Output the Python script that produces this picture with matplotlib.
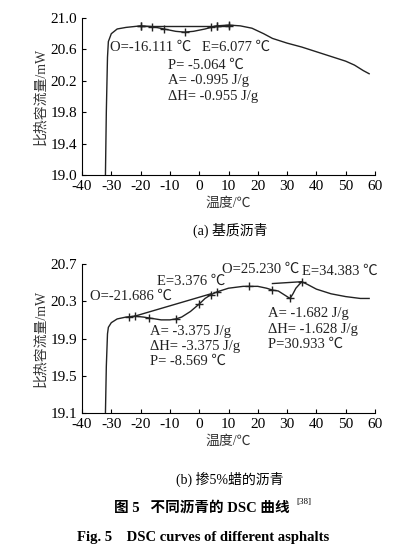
import matplotlib.pyplot as plt
import numpy as np

FONT = ['Liberation Serif', 'Noto Sans CJK SC']
plt.rcParams['font.family'] = FONT
plt.rcParams['axes.unicode_minus'] = False

# ── (a) base asphalt ─────────────────────────────────────────────────────────
a_t = [-32, -31.7, -31.3, -31, -30, -28, -25, -20, -16, -12, -8, -5, -2, 2, 4, 6, 10, 14, 18, 22, 25, 30, 35, 40, 45, 50, 53, 56, 58]
a_q = [19.0, 19.8, 20.5, 20.7, 20.8, 20.86, 20.88, 20.9, 20.89, 20.86, 20.83, 20.82, 20.83, 20.86, 20.88, 20.9, 20.91, 20.9, 20.87, 20.8, 20.74, 20.68, 20.63, 20.57, 20.51, 20.45, 20.4, 20.33, 20.29]
a_base = ([-20, 10], [20.9, 20.9])
a_marks = [-20, -16, -12, -5, 4, 6, 10]

# ── (b) asphalt with 5% wax ──────────────────────────────────────────────────
b_t = [-32, -31.7, -31.3, -31, -30, -28, -25, -22, -19, -17, -13, -10, -8, -6, -3, 0, 2, 4, 6, 10, 15, 20, 23, 25, 27, 29, 31, 32, 33, 35, 37, 40, 45, 50, 55, 58]
b_q = [19.1, 19.6, 19.95, 20.02, 20.07, 20.11, 20.13, 20.14, 20.13, 20.12, 20.1, 20.1, 20.11, 20.13, 20.19, 20.27, 20.33, 20.37, 20.4, 20.44, 20.46, 20.46, 20.44, 20.42, 20.41, 20.37, 20.33, 20.38, 20.44, 20.51, 20.48, 20.43, 20.38, 20.35, 20.33, 20.33]
b_base1 = ([-22, 4], [20.14, 20.38])
b_base2 = ([25, 35], [20.49, 20.51])
b_marks = [-24, -22, -17, -8, 0, 4, 6, 17, 25, 31, 35]

W, H = 403, 552
fig = plt.figure(figsize=(W / 100, H / 100), dpi=100)


def style(ax, ylim, yticks):
    ax.set_xlim(-40, 60)
    ax.set_ylim(*ylim)
    ax.set_xticks(range(-40, 61, 10))
    ax.set_yticks(yticks)
    ax.set_yticklabels([f"{v:.1f}" for v in yticks])
    ax.spines['top'].set_visible(False)
    ax.spines['right'].set_visible(False)
    ax.tick_params(direction='in', length=3, labelsize=11, width=0.8)
    ax.set_xlabel("温度/℃", fontsize=10, color='#333', labelpad=3)
    ax.set_ylabel("比热容流量/mW", fontsize=10, color='#333', labelpad=2)


def txt(ax, x, y, s):
    ax.text(x, y, s, fontsize=10.5, ha='left', va='center', color='#222')


ax1 = fig.add_axes([82 / W, (H - 175) / H, 293 / W, 157 / H])
ax1.plot(a_t, a_q, color='#222', lw=1.0)
ax1.plot(*a_base, color='#222', lw=1.0)
ax1.plot(a_marks, np.interp(a_marks, a_t, a_q), '+', color='#222', ms=6)
ax1.plot([-20, 6, 10], [20.9] * 3, '+', color='#222', ms=6)
style(ax1, (19.0, 21.0), [19.0, 19.4, 19.8, 20.2, 20.6, 21.0])
txt(ax1, -30.5, 20.63, "O=-16.111 ℃")
txt(ax1, 1, 20.63, "E=6.077 ℃")
txt(ax1, -10.6, 20.40, "P= -5.064 ℃")
txt(ax1, -10.6, 20.21, "A= -0.995 J/g")
txt(ax1, -10.6, 20.00, "ΔH= -0.955 J/g")
fig.text(230 / W, 1 - 230 / H, "(a) 基质沥青", fontsize=10, ha='center', va='center')

ax2 = fig.add_axes([82 / W, (H - 413) / H, 293 / W, 149 / H])
ax2.plot(b_t, b_q, color='#222', lw=1.0)
ax2.plot(*b_base1, color='#222', lw=1.0)
ax2.plot(*b_base2, color='#222', lw=1.0)
ax2.plot(b_marks, np.interp(b_marks, b_t, b_q), '+', color='#222', ms=6)
style(ax2, (19.1, 20.7), [19.1, 19.5, 19.9, 20.3, 20.7])
txt(ax2, -37.3, 20.35, "O=-21.686 ℃")
txt(ax2, -14.4, 20.51, "E=3.376 ℃")
txt(ax2, 7.8, 20.64, "O=25.230 ℃")
txt(ax2, 35, 20.62, "E=34.383 ℃")
txt(ax2, -16.8, 19.97, "A= -3.375 J/g")
txt(ax2, -16.8, 19.81, "ΔH= -3.375 J/g")
txt(ax2, -16.8, 19.65, "P= -8.569 ℃")
txt(ax2, 23.5, 20.17, "A= -1.682 J/g")
txt(ax2, 23.5, 20.00, "ΔH= -1.628 J/g")
txt(ax2, 23.5, 19.84, "P=30.933 ℃")
fig.text(230 / W, 1 - 479 / H, "(b) 掺5%蜡的沥青", fontsize=10, ha='center', va='center')

fig.text(202 / W, 1 - 508 / H, "图 5   不同沥青的 DSC 曲线", fontsize=10.5,
         ha='center', va='center', weight='bold')
fig.text(296 / W, 1 - 502 / H, "[38]", fontsize=6.5, ha='left', va='center')
fig.text(203 / W, 1 - 537 / H, "Fig. 5    DSC curves of different asphalts", fontsize=10.5,
         ha='center', va='center', weight='bold')

fig.savefig("out.png", dpi=100)
